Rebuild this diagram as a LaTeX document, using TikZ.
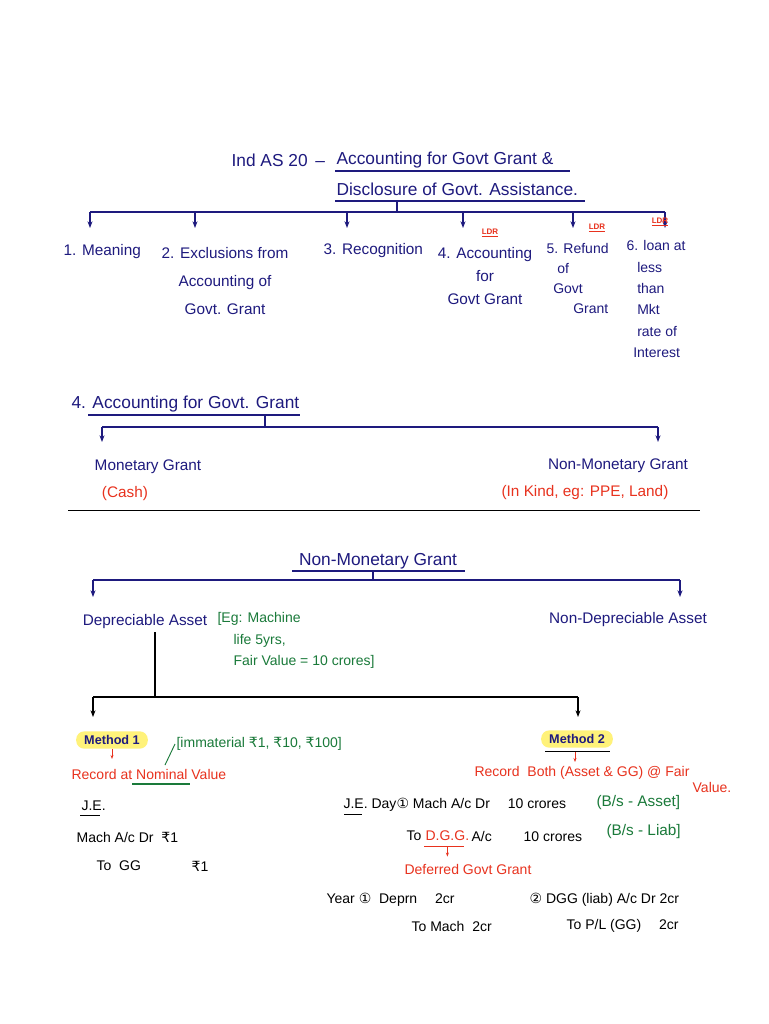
\documentclass[tikz,border=0pt]{standalone}
\usepackage{fontspec}
\setmainfont{Liberation Sans}
\newfontfamily\djv{DejaVu Sans}
\usetikzlibrary{arrows.meta}
\definecolor{navy}{HTML}{1E1A7E}
\definecolor{hred}{HTML}{E8321E}
\definecolor{hgreen}{HTML}{1A7A3A}
\definecolor{hyel}{HTML}{FFF27A}
\newcommand{\Rs}{{\djv ₹}}
\newcommand{\cOne}{{\djv ①}}
\newcommand{\cTwo}{{\djv ②}}
\tikzset{
 nv/.style={text=navy,font=\fontsize{11.5}{13}\selectfont,inner sep=1pt},
 nvl/.style={nv,align=center},
 ttl/.style={text=navy,font=\fontsize{13}{15}\selectfont,inner sep=1pt},
 rd/.style={text=hred,font=\fontsize{10.5}{12}\selectfont,inner sep=1pt},
 gr/.style={text=hgreen,font=\fontsize{10.5}{12}\selectfont,inner sep=1pt},
 bk/.style={text=black,font=\fontsize{10.5}{12}\selectfont,inner sep=1pt},
 ldr/.style={text=hred,font=\bfseries\fontsize{6}{7}\selectfont,inner sep=0pt},
 ln/.style={draw=navy,line width=1pt},
 ar/.style={draw=navy,line width=1pt,-{Stealth[length=5pt]}},
 ul/.style={draw=navy,line width=0.8pt},
}
\begin{document}
\begin{tikzpicture}[x=0.75pt,y=-0.75pt]
\useasboundingbox[fill=white] (0,0) rectangle (768,1024);
% ---------- section 1
\node[ttl,anchor=west] (t0) at (230,160) {Ind AS 20 \,–};
\node[ttl,anchor=west] (t1) at (335,160) {Accounting for Govt Grant \&};
\node[ttl,anchor=west] (t2) at (335,189) {Disclosure of Govt. Assistance.};
\draw[ul] (335,171) -- (570,171);
\draw[ul] (335,201) -- (585,201);
\coordinate (s1) at (397,201);
\coordinate (h1) at (397,212);
\draw[ln] (s1) -- (h1);
\draw[ln] (90,212) -- (665,212);
\foreach \x/\n in {90/a1,195/a2,347/a3,463/a4,573/a5,665/a6}{
  \coordinate (\n) at (\x,212);
  \draw[ar] (\n) -- ++(0,16);}
\node[nv,anchor=west] (m1) at (62,252) {1. Meaning};
\node[nvl] (m2) at (225,281) {2. Exclusions from\\[8pt]Accounting of\\[8pt]Govt. Grant};
\node[nv,anchor=west] (m3) at (322,251) {3. Recognition};
\node[nvl] (m4) at (485,276) {4. Accounting\\[4pt]for\\[4pt]Govt Grant};
\node[nv,align=left,anchor=north west,font=\fontsize{10.5}{15}\selectfont] (m5) at (545,242) {5. Refund\\\hspace*{8pt}of\\\hspace*{5pt}Govt\\\hspace*{20pt}Grant};
\node[nv,align=left,anchor=north west,font=\fontsize{10.5}{16}\selectfont] (m6) at (625,239) {6. loan at\\\hspace*{8pt}less\\\hspace*{8pt}than\\\hspace*{8pt}Mkt\\\hspace*{8pt}rate of\\\hspace*{5pt}Interest};
\node[ldr] (l4) at (490,233) {\underline{LDR}};
\node[ldr] (l5) at (597,228) {\underline{LDR}};
\node[ldr] (l6) at (660,222) {\underline{LDR}};
% ---------- section 2
\node[ttl,anchor=west] (s2) at (70,404) {4. Accounting for Govt. Grant};
\draw[ul] (88,415) -- (300,415);
\draw[ln] (265,415) -- (265,427);
\draw[ln] (102,427) -- (658,427);
\coordinate (b1) at (102,427); \coordinate (b2) at (658,427);
\draw[ar] (b1) -- ++(0,15);
\draw[ar] (b2) -- ++(0,15);
\node[nv] (mg) at (148,467) {Monetary Grant};
\node[rd,font=\fontsize{11.5}{13}\selectfont] (mgc) at (125,494) {(Cash)};
\node[nv] (nmg) at (618,466) {Non-Monetary Grant};
\node[rd,font=\fontsize{11.5}{13}\selectfont] (nmgc) at (585,493) {(In Kind, eg: PPE, Land)};
\draw[black,line width=0.6pt] (68,510) -- (700,510);
% ---------- section 3
\node[ttl] (s3) at (378,561) {Non-Monetary Grant};
\draw[ul] (292,571) -- (465,571);
\draw[ln] (373,571) -- (373,580);
\draw[ln] (93,580) -- (680,580);
\coordinate (c1) at (93,580); \coordinate (c2) at (680,580);
\draw[ar] (c1) -- ++(0,17);
\draw[ar] (c2) -- ++(0,17);
\node[nv] (da) at (145,622) {Depreciable Asset};
\node[gr,align=left,anchor=north west,font=\fontsize{10.5}{16}\selectfont] (eg) at (216,611) {[Eg: Machine\\\hspace*{12pt}life 5yrs,\\\hspace*{12pt}Fair Value = 10 crores]};
\node[nv] (nda) at (628,620) {Non-Depreciable Asset};
\coordinate (v0) at (155,632); \coordinate (v1) at (155,697);
\draw[black,line width=0.8pt] (v0) -- (v1);
\draw[black,line width=0.8pt] (93,697) -- (578,697);
\draw[black,line width=0.8pt,-{Stealth[length=5pt]}] (93,697) -- (93,717);
\draw[black,line width=0.8pt,-{Stealth[length=5pt]}] (578,697) -- (578,717);
% method 1
\node[nv,fill=hyel,rounded corners=6pt,inner xsep=6pt,inner ysep=3pt,font=\bfseries\fontsize{9.5}{11}\selectfont] (me1) at (112,740) {Method 1};
\node[rd,anchor=west] (r1) at (70,774) {Record at \textcolor{hred}{Nominal} Value};
\draw[hred,line width=0.7pt,-{Stealth[length=3pt]}] (me1.south) -- ++(0,10);
\draw[hgreen,line width=0.8pt] (132,784) -- (190,784);
\node[gr,anchor=west] (imm) at (175,744) {[immaterial \Rs1, \Rs10, \Rs100]};
\draw[hgreen,line width=0.7pt] (165,765) -- (imm.west);
\node[bk,anchor=west] (je1) at (80,806) {J.E.};
\draw[black,line width=0.6pt] (80,815) -- (100,815);
\node[bk,anchor=west] (j1) at (75,837) {Mach A/c Dr \ \Rs1};
\node[bk,anchor=west] (j2) at (95,866) {To \ GG};
\node[bk,anchor=west] (j3) at (190,866) {\Rs1};
% method 2
\node[nv,fill=hyel,rounded corners=6pt,inner xsep=6pt,inner ysep=3pt,font=\bfseries\fontsize{9.5}{11}\selectfont] (me2) at (577,739) {Method 2};
\draw[black,line width=0.6pt] (545,751) -- (610,751);
\draw[hred,line width=0.7pt,-{Stealth[length=3pt]}] (575,752) -- (575,762);
\node[rd] (rb) at (582,773) {Record \ Both (Asset \& GG) @ Fair};
\node[rd] (rv) at (712,787) {Value.};
\node[bk,anchor=west] (k1) at (342,805) {J.E. Day\cOne\ Mach A/c Dr \quad 10 crores};
\draw[black,line width=0.6pt] (344,814) -- (362,814);
\node[gr,anchor=west,font=\fontsize{11.5}{13}\selectfont] (k1g) at (595,803) {(B/s - Asset]};
\node[bk,anchor=west] (k2a) at (405,836) {To};
\node[rd,anchor=west] (dgg) at (424,836) {D.G.G.};
\node[bk,anchor=west] (k2b) at (470,836) {A/c \qquad 10 crores};
\draw[hred,line width=0.7pt] (424,846) -- (464,846);
\node[gr,anchor=west,font=\fontsize{11.5}{13}\selectfont] (k2g) at (605,832) {(B/s - Liab]};
\draw[hred,line width=0.7pt,-{Stealth[length=3pt]}] (dgg.south) ++(0,4) -- ++(0,10);
\node[rd] (dg) at (468,869) {Deferred Govt Grant};
\node[bk,anchor=west] (y1) at (325,900) {Year \cOne\ \ Deprn \quad 2cr};
\node[bk,anchor=west] (y2) at (528,900) {\cTwo\ DGG (liab) A/c Dr 2cr};
\node[bk,anchor=west] (y3) at (410,926) {To Mach \ 2cr};
\node[bk,anchor=west] (y4) at (565,926) {To P/L (GG) \quad 2cr};
\end{tikzpicture}
\end{document}
